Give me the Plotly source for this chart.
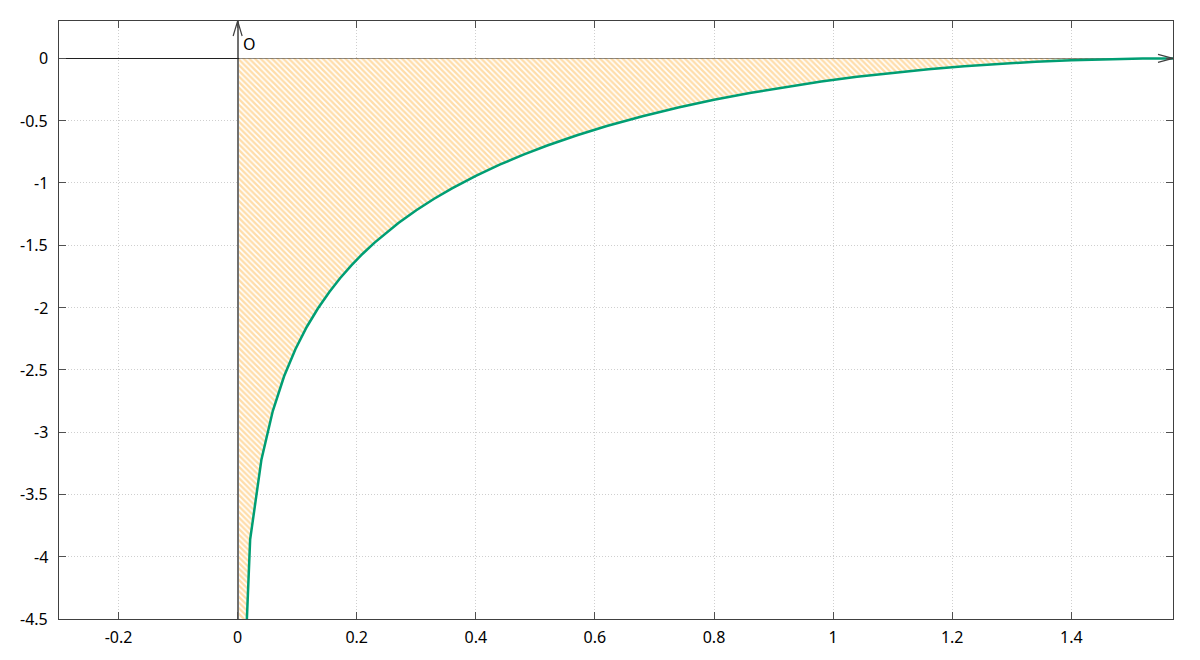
import plotly.graph_objects as go

# curve samples (x, y)
curve_x = [0.0024, 0.021, 0.040, 0.059, 0.078, 0.097, 0.116, 0.135, 0.154, 0.172,
           0.191, 0.21, 0.23, 0.25, 0.27, 0.30, 0.33, 0.36, 0.40, 0.44,
           0.48, 0.52, 0.57, 0.62, 0.68, 0.74, 0.80, 0.86, 0.92, 0.98,
           1.04, 1.10, 1.16, 1.22, 1.28, 1.34, 1.40, 1.46, 1.52, 1.5708]
curve_y = [-6.03, -3.863, -3.219, -2.831, -2.552, -2.335, -2.156, -2.006, -1.875, -1.765,
           -1.662, -1.568, -1.479, -1.397, -1.322, -1.219, -1.127, -1.043, -0.943, -0.8535,
           -0.7727, -0.6994, -0.6169, -0.5429, -0.4640, -0.3941, -0.3322, -0.2773, -0.2287, -0.1857,
           -0.1480, -0.1152, -0.0869, -0.0628, -0.0429, -0.0269, -0.0147, -0.0062, -0.0013, 0.0]

x_ticks = [-0.2, 0, 0.2, 0.4, 0.6, 0.8, 1, 1.2, 1.4]
x_labels = ["-0.2", "0", "0.2", "0.4", "0.6", "0.8", "1", "1.2", "1.4"]
y_ticks = [0, -0.5, -1, -1.5, -2, -2.5, -3, -3.5, -4, -4.5]
y_labels = ["0", "-0.5", "-1", "-1.5", "-2", "-2.5", "-3", "-3.5", "-4", "-4.5"]

x_min, x_max = -0.3, 1.5708
y_min, y_max = -4.5, 0.3

label_font = dict(family="Noto Sans", size=16, color="black")

fig = go.Figure()

fig.add_trace(go.Scatter(
    x=curve_x, y=curve_y, mode="lines",
    line=dict(color="#009e73", width=2.5),
    fill="tozeroy",
    fillcolor="rgba(0,0,0,0)",
    fillpattern=dict(shape="\\", fgcolor="#ffbb55", bgcolor="white",
                     size=4, solidity=0.6),
    showlegend=False, hoverinfo="skip",
))

axis_common = dict(
    showline=True, linecolor="#404040", linewidth=1.2, mirror="ticks",
    ticks="inside", ticklen=7, tickcolor="#505050", tickwidth=1.2,
    showgrid=True, gridcolor="#cfcfcf", griddash="1px,2px", gridwidth=1,
    tickfont=label_font,
)

fig.update_xaxes(range=[x_min, x_max], tickvals=x_ticks, ticktext=x_labels,
                 zeroline=True, zerolinecolor="#707070", zerolinewidth=1.6,
                 ticklabelstandoff=4, **axis_common)
# y tick labels are placed as annotations (plotly's own placement sits too far left)
fig.update_yaxes(range=[y_min, y_max], tickvals=y_ticks, showticklabels=False,
                 zeroline=True, zerolinecolor="#202020", zerolinewidth=1,
                 **axis_common)
for val, txt in zip(y_ticks, y_labels):
    fig.add_annotation(x=0, xref="paper", y=val, yref="y", text=txt, showarrow=False,
                       xanchor="right", yanchor="middle", xshift=-9, font=label_font)

# arrow heads on the two axes
fig.add_shape(type="path", xref="x", yref="y", xsizemode="pixel", ysizemode="pixel",
              xanchor=x_max, yanchor=0, path="M-15,4 L0,0 L-15,-4",
              line=dict(color="#404040", width=1.2))
fig.add_shape(type="path", xref="x", yref="y", xsizemode="pixel", ysizemode="pixel",
              xanchor=0, yanchor=y_max, path="M-4.5,-15 L0,0 L4.5,-15",
              line=dict(color="#404040", width=1.2))

fig.add_annotation(x=0, y=0, text="O", showarrow=False, xanchor="left", yanchor="bottom",
                   xshift=3, yshift=1, font=label_font)

# page body has an 8px margin, so the figure is a bit smaller than the window
fig.update_layout(
    width=1192, height=652,
    margin=dict(l=51, r=27, t=12, b=40),
    paper_bgcolor="white", plot_bgcolor="white",
)

fig.write_html("out.html")
